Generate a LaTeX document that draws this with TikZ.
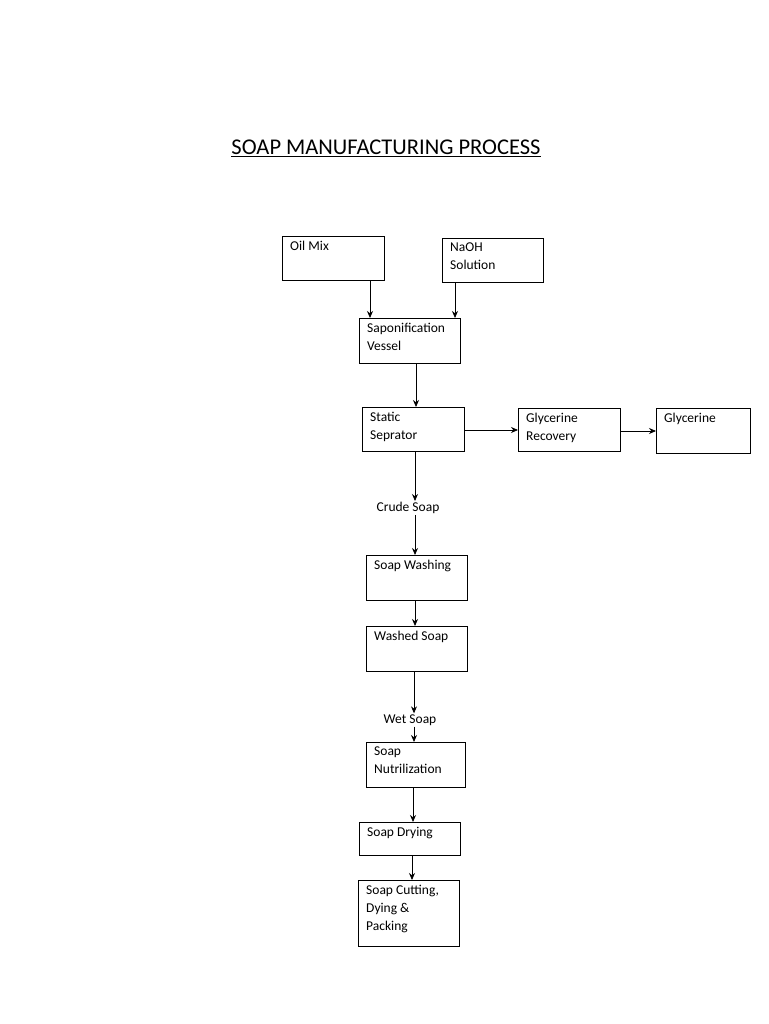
\documentclass[tikz,border=0pt]{standalone}
\usepackage{fontspec}
\setmainfont{Carlito}
\usetikzlibrary{arrows.meta}
\tikzset{boxs/.style={draw,thick,inner sep=0pt,anchor=north west},
 txt/.style={anchor=north west,align=left,font=\fontsize{13.5}{18}\selectfont,inner sep=0pt},
 lbl/.style={font=\fontsize{13.5}{16}\selectfont,inner sep=1pt},
 arr/.style={-{Stealth[length=7pt,width=6pt]},thick}}
\newcommand{\bx}[6]{\node[boxs,minimum width=#4pt-#2pt,minimum height=#5pt-#3pt] (#1) at (#2,#3) {};
 \node[txt] (#1t) at (#2+8,#3+5) {#6};}
\begin{document}
\begin{tikzpicture}[x=1pt,y=-1pt]
\useasboundingbox (0,0) rectangle (768,1024);
\node[font=\fontsize{22.5}{26}\selectfont,inner sep=0pt] (title) at (386,148) {\underline{SOAP MANUFACTURING PROCESS}};
\bx{oil}{282}{236}{384}{280}{Oil Mix}
\bx{naoh}{442}{238}{543}{282}{NaOH\\Solution}
\bx{sap}{359}{318}{460}{363}{Saponification\\Vessel}
\bx{sta}{362}{407}{464}{451}{Static\\Seprator}
\bx{gr}{518}{408}{620}{451}{Glycerine\\Recovery}
\bx{gly}{656}{408}{750}{453}{Glycerine}
\node[lbl] (crude) at (408,508) {Crude Soap};
\bx{wash}{366}{555}{467}{600}{Soap Washing}
\bx{washed}{366}{626}{467}{671}{Washed Soap}
\node[lbl] (wet) at (410,720) {Wet Soap};
\bx{nut}{366}{742}{465}{787}{Soap\\Nutrilization}
\bx{dry}{359}{822}{460}{855}{Soap Drying}
\bx{cut}{358}{880}{459}{946}{Soap Cutting,\\Dying \&\\Packing}
\draw[arr] (oil.south -| 370,0) -- (sap.north -| 370,0);
\draw[arr] (naoh.south -| 455,0) -- (sap.north -| 455,0);
\draw[arr] (sap.south -| 416,0) -- (sta.north -| 416,0);
\draw[arr] (sta.south -| 415,0) -- (crude.north -| 415,0);
\draw[arr] (crude.south -| 415,0) -- (wash.north -| 415,0);
\draw[arr] (wash.south -| 415,0) -- (washed.north -| 415,0);
\draw[arr] (washed.south -| 414,0) -- (wet.north -| 414,0);
\draw[arr] (wet.south -| 414,0) -- (nut.north -| 414,0);
\draw[arr] (nut.south -| 413,0) -- (dry.north -| 413,0);
\draw[arr] (dry.south -| 412,0) -- (cut.north -| 412,0);
\draw[arr] (sta.east |- 0,430) -- (gr.west |- 0,430);
\draw[arr] (gr.east |- 0,431) -- (gly.west |- 0,431);
\end{tikzpicture}
\end{document}
